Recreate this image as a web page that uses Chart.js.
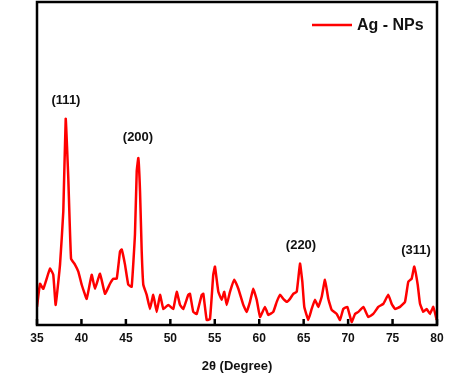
<!DOCTYPE html>
<html>
<head>
<meta charset="utf-8">
<script src="https://cdn.jsdelivr.net/npm/chart.js@4/dist/chart.umd.min.js"></script>
<style>
html,body{margin:0;padding:0;background:#fff;}
#wrap{width:474px;height:383px;}
</style>
</head>
<body>
<div id="wrap"><canvas id="c" width="474" height="383"></canvas></div>
<script>
const seriesName = "Ag - NPs";
const twoTheta = [35.0,35.34,35.71,36.46,36.83,37.10,37.59,37.96,38.23,38.52,38.83,39.27,39.65,40.03,40.59,41.15,41.52,42.09,42.65,43.21,43.58,43.97,44.34,44.53,44.90,45.27,45.65,46.02,46.22,46.40,46.59,46.78,46.96,47.34,47.71,48.08,48.47,48.84,49.21,49.77,50.33,50.72,51.09,51.46,52.02,52.21,52.58,52.97,53.53,53.71,54.09,54.46,54.83,55.02,55.40,55.78,56.07,56.34,56.71,57.20,57.65,58.21,58.59,58.96,59.33,59.72,60.09,60.65,61.02,61.58,61.97,62.34,62.71,63.09,63.46,63.83,64.22,64.59,64.85,65.07,65.52,65.90,66.27,66.65,67.03,67.40,67.77,68.15,68.72,69.09,69.46,69.91,70.40,70.78,71.15,71.71,72.27,72.83,73.40,73.96,74.52,74.90,75.27,75.84,76.40,76.77,77.15,77.44,77.83,78.09,78.46,78.83,79.21,79.58,79.97];
const intensity = [18,41,36,56,50,20,60,113,205,146,66,60,53,40,26,50,36,51,31,41,46,46,73,75,60,40,38,90,153,166,133,73,40,30,16,30,13,30,16,20,16,33,20,16,30,31,13,11,30,31,5,6,50,58,33,25,33,20,33,45,36,20,13,23,36,25,8,18,10,13,23,30,26,23,26,31,33,61,43,18,5,16,25,18,28,45,26,15,11,5,16,18,3,11,13,18,8,11,18,21,30,21,16,18,23,43,46,58,40,21,13,16,11,18,5];
const xTicksMin = 35, xTicksMax = 80, xTickStep = 5;
const peakLabels = ["(111)","(200)","(220)","(311)"];
const peakLabelX = [38.26,46.36,64.70,77.64];
const peakLabelY = [223,186,79,74];
const xTitle = "2θ (Degree)";

const FONT = "'Liberation Sans', Arial, sans-serif";
const RED = "#ff0000";

const framePlugin = {
  id: 'frame',
  afterDraw(chart) {
    const {ctx, chartArea: a, scales} = chart;
    const xs = scales.x, ys = scales.y;
    ctx.save();
    ctx.fillStyle = '#111';
    ctx.font = "bold 13px " + FONT;
    ctx.textAlign = 'center';
    ctx.textBaseline = 'middle';
    peakLabels.forEach((t, i) => {
      ctx.fillText(t, xs.getPixelForValue(peakLabelX[i]), ys.getPixelForValue(peakLabelY[i]));
    });
    ctx.strokeStyle = '#000';
    ctx.lineWidth = 2.5;
    xs.ticks.forEach(tk => {
      const px = xs.getPixelForValue(tk.value);
      ctx.beginPath();
      ctx.moveTo(px, a.bottom);
      ctx.lineTo(px, a.bottom - 6);
      ctx.stroke();
    });
    ctx.lineWidth = 2.5;
    ctx.strokeRect(a.left, a.top, a.right - a.left, a.bottom - a.top);
    const ds = chart.data.datasets[0];
    const ly = a.top + 23;
    const lx = a.right - 125;
    ctx.strokeStyle = ds.borderColor;
    ctx.lineWidth = 2.5;
    ctx.beginPath();
    ctx.moveTo(lx, ly);
    ctx.lineTo(lx + 40, ly);
    ctx.stroke();
    ctx.fillStyle = '#111';
    ctx.font = "bold 16px " + FONT;
    ctx.textAlign = 'left';
    ctx.fillText(ds.label, lx + 45, ly + 1);
    ctx.restore();
  }
};

new Chart(document.getElementById('c'), {
  type: 'line',
  data: {
    datasets: [{
      label: seriesName,
      data: twoTheta.map((x, i) => ({x: x, y: intensity[i]})),
      borderColor: RED,
      borderWidth: 2.5,
      pointRadius: 0,
      tension: 0.1,
      fill: false
    }]
  },
  options: {
    responsive: false,
    animation: false,
    devicePixelRatio: 1,
    layout: {padding: {left: 37, right: 37, top: 2, bottom: 9}},
    plugins: {legend: {display: false}, tooltip: {enabled: false}},
    scales: {
      x: {
        type: 'linear',
        min: xTicksMin,
        max: xTicksMax,
        grid: {display: false, drawTicks: false, tickLength: 0},
        border: {display: false},
        ticks: {
          stepSize: xTickStep,
          color: '#111',
          padding: 6,
          font: {family: FONT, size: 12, weight: 'bold'}
        },
        title: {
          display: true,
          text: xTitle,
          color: '#111',
          padding: {top: 7, bottom: 0},
          font: {family: FONT, size: 13, weight: 'bold'}
        }
      },
      y: {
        display: false,
        min: 0,
        max: 321
      }
    }
  },
  plugins: [framePlugin]
});
</script>
</body>
</html>
